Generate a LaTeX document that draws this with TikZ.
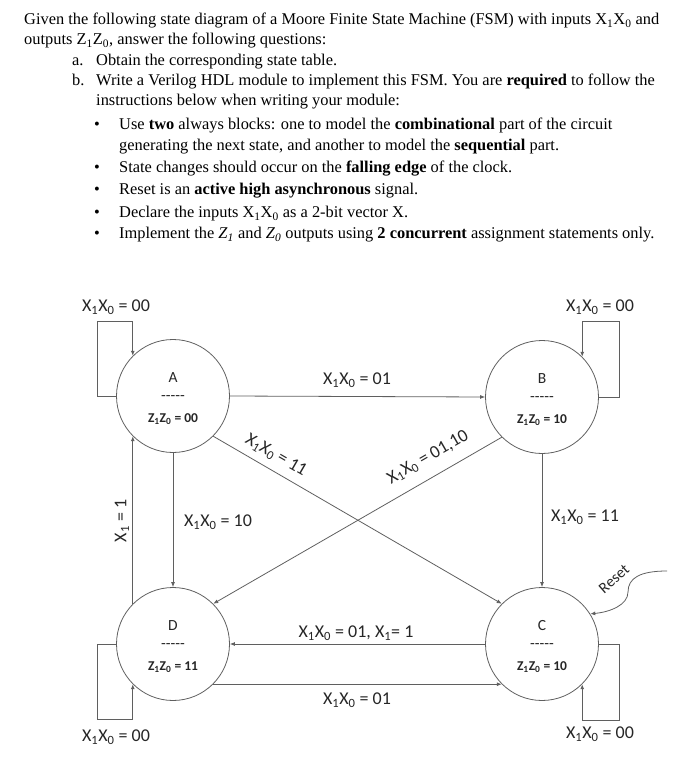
\documentclass[tikz,border=0pt]{standalone}
\usepackage{fontspec}
\setmainfont{Liberation Serif}
\newfontfamily\calfont{Carlito}
\usetikzlibrary{arrows.meta,calc}
\begin{document}
\begin{tikzpicture}[x=1pt,y=-1pt,
  txt/.style={anchor=base west,inner sep=0pt,font=\fontsize{16.4}{19}\selectfont},
  state/.style={circle,draw=linegray,line width=0.8pt,minimum size=113pt,inner sep=0pt},
  lbl/.style={inner sep=0pt,text=black!85,font=\calfont\fontsize{18}{20}\selectfont},
  sname/.style={inner sep=0pt,text=black!85,font=\calfont\fontsize{15.5}{17}\selectfont},
  sout/.style={inner sep=0pt,text=black!85,font=\calfont\bfseries\fontsize{13.5}{15}\selectfont},
  arr/.style={draw=linegray,line width=0.8pt,-{Latex[length=5pt,width=4pt]}},
]
\definecolor{linegray}{RGB}{95,95,95}
\useasboundingbox (0,0) rectangle (689,775);
% ---- question text ----
\node[txt] (t1) at (24,25) {Given the following state diagram of a Moore Finite State Machine (FSM) with inputs X\textsubscript{1}X\textsubscript{0} and};
\node[txt] (t2) at (24,45) {outputs Z\textsubscript{1}Z\textsubscript{0}, answer the following questions:};
\node[txt] (ta) at (72,65.5) {a.};
\node[txt] (ta2) at (96,65.5) {Obtain the corresponding state table.};
\node[txt] (tb) at (72,85.5) {b.};
\node[txt] (tb2) at (96,85.5) {Write a Verilog HDL module to implement this FSM. You are \textbf{required} to follow the};
\node[txt] (tb3) at (96,105.5) {instructions below when writing your module:};
\node[txt] (u1) at (94,129.5) {•};
\node[txt] (u1t) at (119,129.5) {Use \textbf{two} always blocks: one to model the \textbf{combinational} part of the circuit};
\node[txt] (u1u) at (119,150.5) {generating the next state, and another to model the \textbf{sequential} part.};
\node[txt] (u2) at (94,172.5) {•};
\node[txt] (u2t) at (119,172.5) {State changes should occur on the \textbf{falling edge} of the clock.};
\node[txt] (u3) at (94,194.5) {•};
\node[txt] (u3t) at (119,194.5) {Reset is an \textbf{active high asynchronous} signal.};
\node[txt] (u4) at (94,217.5) {•};
\node[txt] (u4t) at (119,217.5) {Declare the inputs X\textsubscript{1}X\textsubscript{0} as a 2-bit vector X.};
\node[txt] (u5) at (94,238.5) {•};
\node[txt] (u5t) at (119,238.5) {Implement the \textit{Z}\textsubscript{\textit{1}} and \textit{Z}\textsubscript{\textit{0}} outputs using \textbf{2 concurrent} assignment statements only.};
% ---- states ----
\node[state] (A) at (173,396) {};
\node[state] (B) at (542,397) {};
\node[state] (C) at (542,644) {};
\node[state] (D) at (173,644) {};
\foreach \s/\n/\z in {A/A/00,B/B/10,C/C/10,D/D/11}{
  \node[sname] (\s n) at ($(\s)+(0,-18)$) {\n};
  \node[sname] (\s d) at ($(\s)+(0,2)$) {-----};
  \node[sout] (\s z) at ($(\s)+(0,23)$) {Z\textsubscript{1}Z\textsubscript{0} = \z};
}
% ---- loop corners ----
\coordinate (lA) at (97,321);
\coordinate (lB) at (619,321);
\coordinate (lC) at (619,720);
\coordinate (lD) at (97,719);
\coordinate (rs) at (667,571);
% ---- connectors ----
\draw[arr] (A.west) -| (lA) -| (A.135);
\draw[arr] (B.east) -| (lB) -| (B.45);
\draw[arr] (C.east) -| (lC) -| (C.315);
\draw[arr] (D.west) -| (lD) -| (D.225);
\draw[arr] (A.east) -- (B.west);
\draw[arr] (A.south) -- (D.north);
\draw[arr] (D.135) -- (A.225);
\draw[arr] (B.south) -- (C.north);
\draw[arr] (A.315) -- (C.135);
\draw[arr] (B.225) -- (D.45);
\draw[arr] (C.west) -- (D.east);
\draw[arr] (D.315) -- (C.225);
\draw[arr] (rs) .. controls (640,571) and (628,578) .. (628,592) .. controls (628,605) and (610,612) .. (C.32);
% ---- labels ----
\node[lbl] (lab1) at (116,307) {X\textsubscript{1}X\textsubscript{0} = 00};
\node[lbl] (lab2) at (600,307) {X\textsubscript{1}X\textsubscript{0} = 00};
\node[lbl] (lab3) at (116,737) {X\textsubscript{1}X\textsubscript{0} = 00};
\node[lbl] (lab4) at (600,734) {X\textsubscript{1}X\textsubscript{0} = 00};
\node[lbl] (lab5) at (357,380) {X\textsubscript{1}X\textsubscript{0} = 01};
\node[lbl] (lab6) at (218,522) {X\textsubscript{1}X\textsubscript{0} = 10};
\node[lbl,rotate=90] (lab7) at (122,521) {X\textsubscript{1} = 1};
\node[lbl] (lab8) at (585,517) {X\textsubscript{1}X\textsubscript{0} = 11};
\node[lbl] (lab9) at (356,633) {X\textsubscript{1}X\textsubscript{0} = 01, X\textsubscript{1}= 1};
\node[lbl] (lab10) at (357,700) {X\textsubscript{1}X\textsubscript{0} = 01};
\node[lbl,rotate=-30] (lab11) at (276,455.5) {X\textsubscript{1}X\textsubscript{0} = 11};
\node[lbl,rotate=30] (lab12) at (428,457.5) {X\textsubscript{1}X\textsubscript{0} = 01,10};
\node[lbl,rotate=41,font=\calfont\fontsize{15.5}{17}\selectfont] (lab13) at (614,579) {Reset};
\end{tikzpicture}
\end{document}
